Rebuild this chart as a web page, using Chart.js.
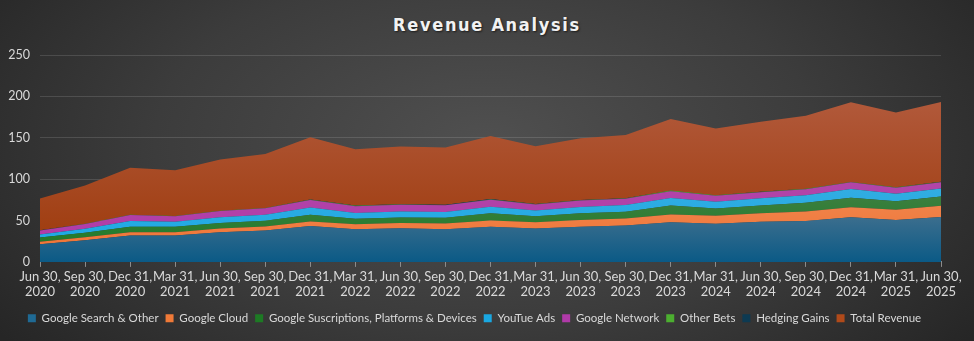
<!DOCTYPE html>
<html>
<head>
<meta charset="utf-8">
<script src="https://cdn.jsdelivr.net/npm/chart.js@4.4.1/dist/chart.umd.min.js"></script>
<style>
    html, body { margin: 0; padding: 0; }
    body { width: 974px; height: 341px; overflow: hidden; }
    #wrap {
        position: relative;
        width: 974px;
        height: 341px;
        background: radial-gradient(ellipse 62% 95% at 50% 42%, #505050 0%, #3c3c3c 55%, #262626 100%);
    }
    #titulo {
        position: absolute;
        left: 0; right: 0; top: 14px;
        text-align: center;
        color: #f2f2f2;
        font-family: "DejaVu Sans Condensed", "DejaVu Sans", sans-serif;
        font-weight: bold;
        font-size: 18px;
        letter-spacing: 1.7px;
        text-shadow: 1px 1px 2px rgba(0,0,0,0.6);
    }
    canvas { position: absolute; left: 0; top: 0; }
</style>
</head>
<body>
<div id="wrap">
    <div id="titulo">Revenue Analysis</div>
    <canvas id="revenueChart" width="974" height="341"></canvas>
</div>
<script>
// Trimestres (eje X)
const trimestres = [
    ['Jun 30,', '2020'], ['Sep 30,', '2020'], ['Dec 31,', '2020'], ['Mar 31,', '2021'],
    ['Jun 30,', '2021'], ['Sep 30,', '2021'], ['Dec 31,', '2021'], ['Mar 31,', '2022'],
    ['Jun 30,', '2022'], ['Sep 30,', '2022'], ['Dec 31,', '2022'], ['Mar 31,', '2023'],
    ['Jun 30,', '2023'], ['Sep 30,', '2023'], ['Dec 31,', '2023'], ['Mar 31,', '2024'],
    ['Jun 30,', '2024'], ['Sep 30,', '2024'], ['Dec 31,', '2024'], ['Mar 31,', '2025'],
    ['Jun 30,', '2025']
];

// Ingresos por segmento (miles de millones USD)
const searchOther   = [21.3, 26.3, 31.9, 31.9, 35.8, 37.9, 43.3, 39.6, 40.7, 39.5, 42.6, 40.4, 42.6, 44.0, 48.0, 46.2, 48.5, 49.4, 54.0, 50.7, 54.2];
const cloud         = [3.0, 3.4, 3.8, 4.0, 4.6, 5.0, 5.5, 5.8, 6.3, 6.9, 7.3, 7.5, 8.0, 8.4, 9.2, 9.6, 10.3, 11.4, 12.0, 12.3, 13.6];
const suscripciones = [5.1, 5.5, 6.7, 6.5, 6.6, 6.8, 8.2, 6.8, 6.6, 6.9, 8.8, 7.4, 8.1, 8.3, 10.8, 8.7, 9.3, 10.7, 11.6, 10.4, 11.2];
const youtubeAds    = [3.8, 5.0, 6.9, 6.0, 7.0, 7.2, 8.6, 6.9, 7.3, 7.1, 8.0, 6.7, 7.7, 8.0, 9.2, 8.1, 8.7, 8.9, 10.5, 8.9, 9.8];
const googleNetwork = [4.7, 5.7, 7.4, 6.8, 7.6, 8.0, 9.3, 8.2, 8.3, 7.9, 8.5, 7.5, 7.9, 7.7, 8.3, 7.4, 7.4, 7.5, 8.0, 7.3, 7.4];
const otherBets     = [0.15, 0.18, 0.20, 0.20, 0.19, 0.18, 0.18, 0.44, 0.19, 0.21, 0.23, 0.29, 0.29, 0.30, 0.66, 0.50, 0.37, 0.39, 0.40, 0.45, 0.37];
const hedging       = [0.18, 0.03, 0.0, 0.08, 0.07, 0.10, 0.20, 0.28, 0.38, 0.64, 0.66, 0.08, 0.08, 0.07, 0.15, 0.07, 0.11, 0.01, 0.03, 0.20, 0.19];
const totalRevenue  = [38.3, 46.2, 56.9, 55.3, 61.9, 65.1, 75.3, 68.0, 69.7, 69.1, 76.0, 69.8, 74.6, 76.7, 86.3, 80.5, 84.7, 88.3, 96.5, 90.2, 96.4];

// Degradado vertical para cada serie
function degradado(abajo, arriba, hasta) {
    return function(context) {
        const chart = context.chart;
        const area = chart.chartArea;
        if (!area) return abajo;
        const g = chart.ctx.createLinearGradient(0, area.bottom, 0, area.top);
        g.addColorStop(0, abajo);
        g.addColorStop(hasta, arriba);
        g.addColorStop(1, arriba);
        return g;
    };
}

const series = [
    { label: 'Google Search & Other', data: searchOther, color: degradado('#0b5a86', '#45728f', 0.26), legend: '#1f6a94' },
    { label: 'Google Cloud', data: cloud, color: degradado('#f07030', '#f0864e', 0.33), legend: '#f07a38' },
    { label: 'Google Suscriptions, Platforms & Devices', data: suscripciones, color: degradado('#177a22', '#458046', 0.4), legend: '#1d7a24' },
    { label: 'YouTue Ads', data: youtubeAds, color: degradado('#14a8e6', '#3aaee0', 0.45), legend: '#1aa8e2' },
    { label: 'Google Network', data: googleNetwork, color: degradado('#b036a8', '#b24aa8', 0.5), legend: '#b03aa8' },
    { label: 'Other Bets', data: otherBets, color: '#4caf30', legend: '#4caf30' },
    { label: 'Hedging Gains', data: hedging, color: '#0d3a52', legend: '#0d3a52' },
    { label: 'Total Revenue', data: totalRevenue, color: degradado('#9c3808', '#b25a3c', 0.8), legend: '#b04a1a' }
];

const ctx = document.getElementById('revenueChart').getContext('2d');

new Chart(ctx, {
    type: 'line',
    data: {
        labels: trimestres,
        datasets: series.map((s, i) => ({
            label: s.label,
            data: s.data,
            backgroundColor: s.color,
            legendColor: s.legend,
            borderWidth: 0,
            borderColor: 'rgba(0,0,0,0)',
            pointRadius: 0,
            pointHoverRadius: 0,
            tension: 0,
            fill: i === 0 ? 'origin' : '-1'
        }))
    },
    options: {
        responsive: false,
        animation: false,
        layout: {
            padding: { left: 8, right: 33, top: 55, bottom: 7 }
        },
        plugins: {
            title: { display: false },
            tooltip: { enabled: false },
            legend: {
                position: 'bottom',
                labels: {
                    color: '#d9d9d9',
                    boxWidth: 8,
                    boxHeight: 8,
                    padding: 7,
                    font: { family: 'Lato', size: 11.5 },
                    generateLabels: function(chart) {
                        return chart.data.datasets.map((ds, i) => ({
                            text: ds.label,
                            fillStyle: ds.legendColor,
                            strokeStyle: ds.legendColor,
                            lineWidth: 0,
                            fontColor: '#d9d9d9',
                            hidden: false,
                            datasetIndex: i
                        }));
                    }
                }
            }
        },
        scales: {
            x: {
                stacked: true,
                offset: false,
                grid: {
                    drawOnChartArea: false,
                    drawTicks: true,
                    tickLength: 5,
                    color: '#8c8c8c'
                },
                border: { display: true, color: '#8c8c8c', width: 1 },
                ticks: {
                    color: '#d9d9d9',
                    maxRotation: 0,
                    autoSkip: false,
                    padding: 3,
                    font: { family: 'Lato', size: 13, lineHeight: 1.1 }
                },
                afterFit: function(scale) { scale.height += 4; }
            },
            y: {
                stacked: true,
                min: 0,
                max: 250,
                grid: {
                    color: 'rgba(255,255,255,0.13)',
                    drawTicks: false
                },
                border: { display: false },
                ticks: {
                    stepSize: 50,
                    color: '#d9d9d9',
                    padding: 10,
                    font: { family: 'Lato', size: 12.5 }
                },
                afterFit: function(scale) { scale.width = 32; }
            }
        }
    }
});
</script>
</body>
</html>
